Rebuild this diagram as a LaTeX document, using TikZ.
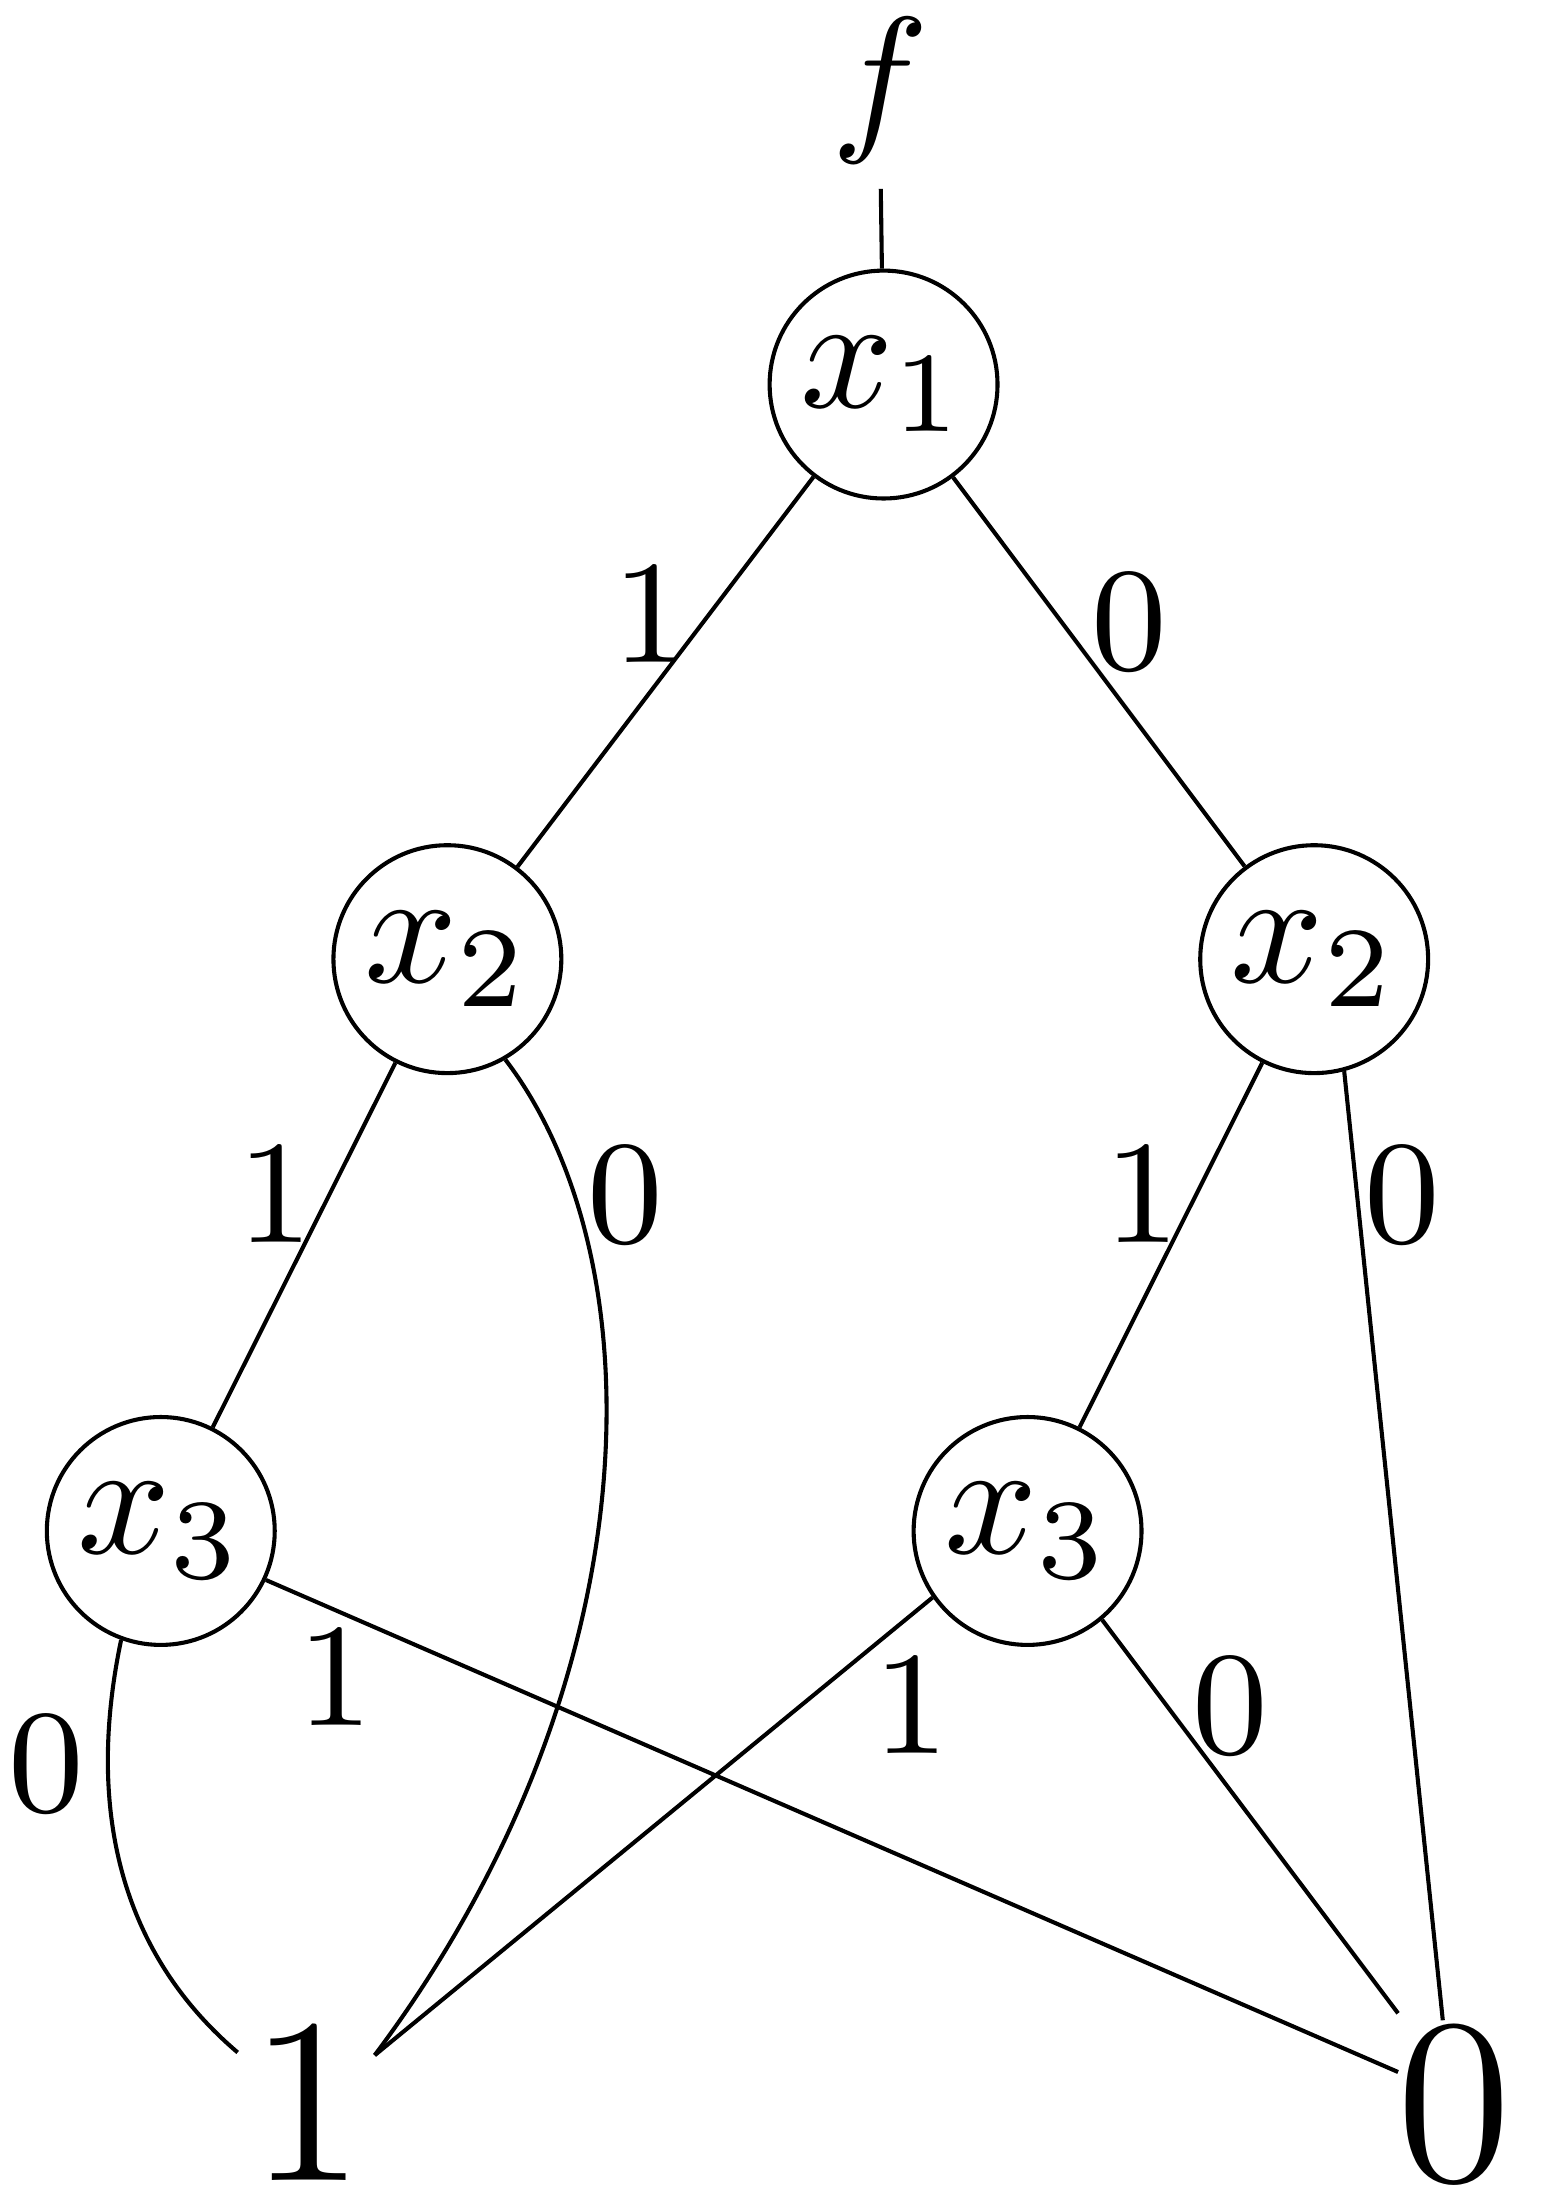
\documentclass[tikz,border=0pt]{standalone}
\begin{document}
\begin{tikzpicture}[x=0.003cm,y=-0.003cm,line width=0.25pt,
  vnode/.style={circle,draw,minimum size=0.49cm,inner sep=0pt,font=\normalsize},
  elabel/.style={font=\small}]
\useasboundingbox (0,0) rectangle (1103,1580);
\node (f) at (630,65) {$f$};
\coordinate (ftop) at (630,135);
\node[vnode] (x1) at (632,275) {$x_1$};
\node[vnode] (x2L) at (320,686) {$x_2$};
\node[vnode] (x2R) at (940,686) {$x_2$};
\node[vnode] (x3L) at (115,1095) {$x_3$};
\node[vnode] (x3R) at (735,1095) {$x_3$};
\node[font=\Large] (one) at (220,1505) {$1$};
\node[font=\Large] (zero) at (1040,1505) {$0$};
\coordinate (oneA) at (170,1468);
\coordinate (oneB) at (268,1470);
\coordinate (zeroA) at (1000,1440);
\coordinate (zeroB) at (1000,1482);
\coordinate (zeroC) at (1032,1445);
\draw (ftop) -- (x1);
\draw (x1) -- (x2L); \draw (x1) -- (x2R);
\draw (x2L) -- (x3L);
\draw (x2L.-60) .. controls (470,900) and (470,1200) .. (oneB);
\draw (x2R) -- (x3R);
\draw (x2R.-75) -- (zeroC);
\draw (x3L.-110) .. controls (60,1300) and (90,1400) .. (oneA);
\draw (x3L.-25) -- (zeroB);
\draw (x3R.-145) -- (oneB);
\draw (x3R.-50) -- (zeroA);
\node[elabel] at (465,440) {$1$};
\node[elabel] at (808,445) {$0$};
\node[elabel] at (197,855) {$1$};
\node[elabel] at (447,855) {$0$};
\node[elabel] at (817,855) {$1$};
\node[elabel] at (1003,855) {$0$};
\node[elabel] at (33,1262) {$0$};
\node[elabel] at (240,1200) {$1$};
\node[elabel] at (652,1220) {$1$};
\node[elabel] at (880,1220) {$0$};
\end{tikzpicture}
\end{document}
